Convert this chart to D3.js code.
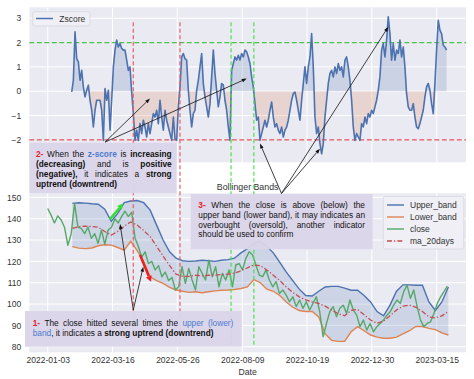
<!DOCTYPE html>
<html>
<head>
<meta charset="utf-8">
<script src="https://cdnjs.cloudflare.com/ajax/libs/d3/7.8.5/d3.min.js"></script>
<style>
  body { margin: 0; background: #fff; }
  svg { font-family: "Liberation Sans", Arial, sans-serif; }
</style>
</head>
<body>
<svg id="chart" width="474" height="379"></svg>
<script>
// x axis: trading-day index, labelled every 50 days
const tickDays = [0, 50, 100, 150, 200, 250, 300];
const tickLabels = ["2022-01-03", "2022-03-16", "2022-05-26", "2022-08-09", "2022-10-19", "2022-12-30", "2023-03-15"];

// close price, one reading every closeStep days from day 0
const closeStep = 2.59;
const closeVals = [144.8, 141.7, 138, 141.3, 139.4, 136, 127.5, 133, 147.2, 136,
  135.5, 133, 136, 130.8, 133, 128.4, 134.7, 128, 134.7, 136,
  140, 138, 141, 143.5, 141, 143, 131, 127, 122, 124.5,
  119, 120, 116, 118, 112.8, 115, 111, 112.5, 106.6,
  108.1, 117.5, 109.7, 116.7, 111.3, 106.6, 117.5, 114.4, 111.3, 120.6,
  112.8, 117.5, 108.1, 114.4, 111.3, 116, 108.1, 118.3, 119, 116,
  121.4, 124.5, 123, 118.3, 113.6, 112.8, 116, 111.3, 108.1, 110.5,
  105, 106.6, 104.2, 101.1, 103.4, 98.8, 101.9, 98, 101.1, 97.2,
  100.3, 103.4, 96.4, 84.7, 90.9, 96.4, 98.8, 94.1, 98, 99.5,
  95.6, 101.9, 97.2, 94.8, 89.4, 92.5, 87.8, 90.9, 87, 89.4,
  90.9, 92.5, 94.8, 96.4, 99.5, 101.9, 100.3, 105.8, 108.9, 102.7,
  106.6, 98.8, 92.5, 89.4, 90.9, 91.7, 95.6, 100.3, 103.4, 105.8, 108.4];

// bands and 20 day average, every 5 days from day 19
const bandStart = 19, bandStep = 5;
const upperVals = [147.2, 147.5, 147.3, 147, 146.8, 144.5, 138.8, 142.5, 147.5, 148.3,
  148.5, 147.5, 144, 137, 130, 124.5, 121.5, 120.3, 120, 120.2,
  120.5, 120.3, 120, 120.5, 120.8, 121.5, 124, 126, 128.5, 129.5,
  127, 124, 119.5, 115, 111, 107, 104, 103.8, 106, 108,
  108.3, 108.3, 107.5, 106.5, 106.5, 104, 101, 96.5, 94.5, 99.5,
  106, 109, 109, 108.8, 108.8, 101, 97, 101, 108];
const lowerVals = [126.9, 126.2, 126, 126.3, 127.3, 127.8, 127.6, 126.5, 125.3, 129.5,
  125, 120, 112.8, 111, 109.7, 107.8, 106.6, 106, 105.5, 105.8,
  105.3, 105.8, 106.2, 106.5, 106.6, 106.8, 107.3, 108, 111.5, 110,
  107, 106, 104, 101, 98.5, 97, 96.5, 96.5, 94, 86,
  83, 82.5, 82.5, 87, 89.4, 87.5, 85.5, 84.5, 84, 84,
  84.5, 86, 87.5, 89.5, 89.5, 88.6, 88, 86.5, 85.5];
const maVals = [135.5, 136.3, 136.5, 136.3, 136, 134, 132.3, 134, 136.5, 138.5,
  137, 134.5, 131.6, 127, 122.5, 118, 114, 113, 113, 113.5,
  113.2, 113.5, 113.5, 113.8, 114, 114.5, 115.5, 117, 118.3, 118,
  116, 113.5, 111, 108, 105.5, 103.4, 102, 101, 100.3, 99,
  97.2, 95.5, 94.5, 97, 97.5, 95, 92.5, 91, 92, 94.5,
  97.2, 99, 99.5, 98.5, 96.5, 94, 93.5, 94.5, 96.5];

// z-score readings
const zStart = 18.5, zStep = 1.285;
const zVals = [-0.03, 0.45, 2.44, 1.34, 1.21, 0.45, 0.86, 0.18, -0.23, 0.04,
  0.25, -0.37, -0.78, -1.47, -0.78, -0.37, -0.37, -0.37, -0.78, -2.02,
  0.11, -0.37, 0.04, -1.6, -0.37, 1.0, 1.69, 2.1, 1.82, 1.96,
  1.76, 1.69, 1.69, 1.28, 0.86, 1.0, -0.03, -0.92, -2.02, -1.6,
  -2.02, -1.33, -1.74, -1.19, -1.47, -1.88, -1.33, -1.74, -1.33, -0.92,
  -1.06, -0.78, -1.33, -0.37, -1.06, -1.6, -0.78, -1.19, -1.47, -1.74,
  -2.02, -1.06, -1.95, -2.02, -0.64, 0.18, 1.41, 1.55, 1.34, 1.28,
  0.04, -0.78, -1.47, -0.92, -0.78, 0.04, 0.45, 1.0, 1.55, 0.32,
  -0.23, -0.64, -1.06, -0.51, 0.59, 1.69, 0.73, 0.04, -0.64, -0.23,
  0.32, 0.25, -0.37, -0.78, -1.47, -2.02, 0.86, 1.14, 1.41, 1.28,
  1.48, 1.28, 1.55, 1.41, 1.69, 1.62, 1.41, 1.14, 0.59, 0.18,
  -0.51, -1.19, -1.06, -2.02, -1.74, -1.47, -1.19, -1.47, -1.19, -0.78,
  -0.44, -1.06, -1.47, -1.33, -1.6, -1.74, -1.47, -1.88, -1.6, -1.47,
  -1.19, -0.78, -0.37, -0.1, -0.03, -0.37, -0.78, -1.19, -0.37, 0.32,
  1.0, 0.32, 1.0, 1.41, 2.37, 1.0, -1.06, -1.74, -1.47, -2.15,
  -2.57, -2.15, -1.06, -0.37, 0.32, 0.73, 0.86, 0.59, 1.0, 0.73,
  1.14, 0.86, 1.0, 0.59, 1.28, 1.41, 1.0, 0.45, -0.37, -1.47,
  -2.02, -1.74, -1.88, -2.02, -1.33, -1.47, -1.06, -1.33, -0.92, -1.06,
  -0.78, -0.92, -0.64, -0.37, 0.04, 0.59, 1.69, 1.96, 1.41, 2.1,
  3.06, 2.37, 1.28, 1.96, 1.28, 1.69, 1.55, 2.1, 1.41, 1.82,
  1.0, -0.1, -0.64, -0.78, -0.78, -0.51, -1.06, -1.47, -1.54, -1.33,
  -1.06, -0.78, -0.23, 0.18, 0.32, 0.04, -0.51, -0.92, 0.32, 1.69,
  2.92, 2.51, 2.37, 1.89, 1.82, 1.69];

const zTicks = [-2, -1, 0, 1, 2, 3];
const priceTicks = [80, 90, 100, 110, 120, 130, 140, 150];
const redDays = [66, 102];
const greenDays = [141.4, 159];

const blue = "#4C72B0", orange = "#DD8452", green = "#55A868", red = "#C44E52";

const svg = d3.select("#chart");
const x = d3.scaleLinear().domain([-14.2, 322.6]).range([29.3, 466]);
const yz = d3.scaleLinear().domain([-2.92, 3.45]).range([162.3, 7.3]);
const yb = d3.scaleLinear().domain([77.4, 151.9]).range([352.3, 193.3]);

const closePts = closeVals.map((v, i) => [i * closeStep, v]);
const bandPts = (vals) => vals.map((v, i) => [bandStart + i * bandStep, v]);
const upperPts = bandPts(upperVals), lowerPts = bandPts(lowerVals), maPts = bandPts(maVals);
const zPts = zVals.map((v, i) => [zStart + i * zStep, v]);

function panel(y, ticks, fmt) {
  const [x0, x1] = x.range();
  const [b, t] = y.range();
  svg.append("rect").attr("x", x0).attr("y", t).attr("width", x1 - x0).attr("height", b - t).attr("fill", "#EAEAF2");
  const grid = svg.append("g").attr("stroke", "#fff").attr("stroke-width", 1);
  tickDays.forEach(d => grid.append("line").attr("x1", x(d)).attr("x2", x(d)).attr("y1", t).attr("y2", b));
  ticks.forEach(v => grid.append("line").attr("x1", x0).attr("x2", x1).attr("y1", y(v)).attr("y2", y(v)));
  const ax = svg.append("g").attr("transform", `translate(${x0},0)`)
    .call(d3.axisLeft(y).tickValues(ticks).tickSize(0).tickPadding(8).tickFormat(fmt));
  ax.select(".domain").remove();
  ax.selectAll("text").attr("font-size", 8.5).attr("fill", "#333").style("font-family", "Liberation Sans, Arial");
}

// ---------- top panel: z-score ----------
panel(yz, zTicks, d3.format("d"));
const defs = svg.append("defs");
defs.append("clipPath").attr("id", "zpos").append("rect")
  .attr("x", 0).attr("y", 0).attr("width", 474).attr("height", yz(0));
defs.append("clipPath").attr("id", "zneg").append("rect")
  .attr("x", 0).attr("y", yz(0)).attr("width", 474).attr("height", 379);

const zArea = d3.area().x(d => x(d[0])).y0(yz(0)).y1(d => yz(d[1]));
svg.append("path").datum(zPts).attr("d", zArea).attr("clip-path", "url(#zpos)")
  .attr("fill", blue).attr("fill-opacity", 0.2);
svg.append("path").datum(zPts).attr("d", zArea).attr("clip-path", "url(#zneg)")
  .attr("fill", orange).attr("fill-opacity", 0.22);

const [ax0, ax1] = x.range();
svg.append("line").attr("x1", ax0).attr("x2", ax1).attr("y1", yz(2)).attr("y2", yz(2))
  .attr("stroke", "#4cc24c").attr("stroke-width", 1.4).attr("stroke-dasharray", "5,2.5");
svg.append("line").attr("x1", ax0).attr("x2", ax1).attr("y1", yz(-2)).attr("y2", yz(-2))
  .attr("stroke", "#e0505c").attr("stroke-width", 1.4).attr("stroke-dasharray", "5,2.5");

svg.append("path").datum(zPts)
  .attr("d", d3.line().x(d => x(d[0])).y(d => yz(d[1])))
  .attr("fill", "none").attr("stroke", blue).attr("stroke-width", 1.6).attr("stroke-linejoin", "round");

// legend (top)
const lgTop = svg.append("g");
lgTop.append("rect").attr("x", 32.7).attr("y", 11.7).attr("width", 57.3).attr("height", 14.3).attr("rx", 2)
  .attr("fill", "#EFEFF5").attr("stroke", "#d4d4dc").attr("stroke-width", 0.7);
lgTop.append("line").attr("x1", 36).attr("x2", 53).attr("y1", 18.5).attr("y2", 18.5).attr("stroke", blue).attr("stroke-width", 1.5);
lgTop.append("text").attr("x", 59.3).attr("y", 21.5).attr("font-size", 8.5).attr("fill", "#333").text("Zscore");

// ---------- bottom panel: Bollinger bands ----------
panel(yb, priceTicks, d3.format("d"));
const xAx = svg.append("g").attr("transform", `translate(0,${yb.range()[0]})`)
  .call(d3.axisBottom(x).tickValues(tickDays).tickSize(0).tickPadding(4.5).tickFormat((d, i) => tickLabels[i]));
xAx.select(".domain").remove();
xAx.selectAll("text").attr("font-size", 8.5).attr("fill", "#333").style("font-family", "Liberation Sans, Arial");
svg.append("text").attr("x", d3.mean(x.range())).attr("y", 375).attr("text-anchor", "middle")
  .attr("font-size", 8.7).attr("fill", "#333").text("Date");
svg.append("text").attr("x", d3.mean(x.range())).attr("y", 190).attr("text-anchor", "middle")
  .attr("font-size", 8.8).attr("fill", "#333").text("Bollinger Bands");

const bandArea = d3.area().x(d => x(d[0])).y0((d, i) => yb(lowerPts[i][1])).y1(d => yb(d[1]));
svg.append("path").datum(upperPts).attr("d", bandArea).attr("fill", blue).attr("fill-opacity", 0.18);

const pLine = d3.line().x(d => x(d[0])).y(d => yb(d[1]));
svg.append("path").datum(upperPts).attr("d", pLine).attr("fill", "none").attr("stroke", blue).attr("stroke-width", 1.4);
svg.append("path").datum(lowerPts).attr("d", pLine).attr("fill", "none").attr("stroke", orange).attr("stroke-width", 1.4);
svg.append("path").datum(closePts).attr("d", pLine).attr("fill", "none").attr("stroke", green).attr("stroke-width", 1.4).attr("stroke-linejoin", "round");
svg.append("path").datum(maPts).attr("d", pLine).attr("fill", "none").attr("stroke", red).attr("stroke-width", 1.3).attr("stroke-dasharray", "5,2,1.3,2");

// legend (bottom)
const lgB = svg.append("g");
lgB.append("rect").attr("x", 383.3).attr("y", 196.5).attr("width", 80.5).attr("height", 52.5).attr("rx", 2)
  .attr("fill", "#EFEFF5").attr("stroke", "#d4d4dc").attr("stroke-width", 0.7);
const lgItems = [["Upper_band", blue, null], ["Lower_band", orange, null], ["close", green, null], ["ma_20days", red, "5,2,1.3,2"]];
lgItems.forEach(([name, col, dash], i) => {
  const yy = 205 + i * 12;
  lgB.append("line").attr("x1", 387).attr("x2", 404).attr("y1", yy).attr("y2", yy)
    .attr("stroke", col).attr("stroke-width", 1.4).attr("stroke-dasharray", dash);
  lgB.append("text").attr("x", 410).attr("y", yy + 3).attr("font-size", 8.5).attr("fill", "#333").text(name);
});

// ---------- vertical markers across both panels ----------
const vTop = yz(2.84), vBot = yb(79.85);
redDays.forEach(d => svg.append("line").attr("x1", x(d)).attr("x2", x(d)).attr("y1", vTop).attr("y2", vBot)
  .attr("stroke", "#e8606a").attr("stroke-width", 1.2).attr("stroke-dasharray", "4,2.5"));
greenDays.forEach(d => svg.append("line").attr("x1", x(d)).attr("x2", x(d)).attr("y1", vTop).attr("y2", vBot)
  .attr("stroke", "#4ee04e").attr("stroke-width", 1.2).attr("stroke-dasharray", "4,2.5"));

// ---------- annotation boxes ----------
const fs = 8.3;
function textBox(b) {
  const g = svg.append("g");
  g.append("rect").attr("x", b.x0).attr("y", b.y0).attr("width", b.x1 - b.x0).attr("height", b.y1 - b.y0)
    .attr("fill", "#DBD4E9").attr("fill-opacity", 0.96);
  b.lines.forEach((line, li) => {
    const y = b.ty + li * b.lh;
    const words = line.map(w => {
      const t = g.append("text").attr("y", y).attr("font-size", fs).attr("fill", "#111");
      (Array.isArray(w) ? w : [w]).forEach(seg => {
        const [st, txt] = seg.includes("|") ? seg.split("|") : ["", seg];
        t.append("tspan").text(txt)
          .attr("font-weight", st.includes("b") || st === "r" ? "bold" : null)
          .attr("fill", st === "r" ? "#e8202a" : st.includes("u") ? "#4a7bd0" : null);
      });
      return t;
    });
    const widths = words.map(t => t.node().getComputedTextLength());
    const justify = li < b.lines.length - 1 && words.length > 1;
    const gap = justify ? (b.tx1 - b.tx0 - d3.sum(widths)) / (words.length - 1) : fs * 0.278;
    let cx = b.tx0;
    words.forEach((t, i) => { t.attr("x", cx); cx += widths[i] + gap; });
  });
}

textBox({ x0: 29.3, x1: 176.7, y0: 142.7, y1: 193.3, tx0: 36, tx1: 171.7, ty: 157.3, lh: 9.8,
  lines: [["r|2-", "When", "the", "ub|z-score", "is", "b|increasing"],
          ["b|(decreasing)", "and", "is", "b|positive"],
          ["b|(negative),", "it", "indicates", "a", "b|strong"],
          ["b|uptrend", "b|(downtrend)"]] });
textBox({ x0: 25, x1: 241.7, y0: 311, y1: 346.7, tx0: 32.7, tx1: 233.3, ty: 326.3, lh: 9.8,
  lines: [["r|1-", "The", "close", "hitted", "several", "times", "the", "u|upper", "u|(lower)"],
          [["u|band", ","], "it", "indicates", "a", "b|strong", "b|uptrend", "b|(downtrend)"]] });
textBox({ x0: 190.7, x1: 372.7, y0: 194, y1: 249.3, tx0: 198.3, tx1: 365, ty: 207.7, lh: 9.9,
  lines: [["r|3-", "When", "the", "close", "is", "above", "(below)", "the"],
          ["upper", "band", "(lower", "band),", "it", "may", "indicates", "an"],
          ["overbought", "(oversold),", "another", "indicator"],
          ["should", "be", "used", "to", "confirm"]] });

// ---------- arrows ----------
function arrow(p, q, col, w, hl, hw) {
  const dx = q[0] - p[0], dy = q[1] - p[1], L = Math.hypot(dx, dy);
  const ux = dx / L, uy = dy / L;
  const bx = q[0] - ux * hl, by = q[1] - uy * hl;
  svg.append("line").attr("x1", p[0]).attr("y1", p[1]).attr("x2", bx).attr("y2", by)
    .attr("stroke", col).attr("stroke-width", w);
  svg.append("polygon").attr("fill", col)
    .attr("points", [[q[0], q[1]], [bx - uy * hw / 2, by + ux * hw / 2], [bx + uy * hw / 2, by - ux * hw / 2]].join(" "));
}
const zp = d => [x(d[0]), yz(d[1])];
const bp = d => [x(d[0]), yb(d[1])];

const zArrowTail = [44.2, -2.09];
const zArrowHeads = [[78.9, -0.3], [153.5, 0.52]];
zArrowHeads.forEach(h => arrow(zp(zArrowTail), zp(h), "#111", 0.8, 5, 3.6));

const bbArrowTail = [180.3, -4.2];
const bbArrowHeads = [[163.7, -2.15], [262.7, 2.65], [210, -2.36]];
bbArrowHeads.forEach(h => arrow(zp(bbArrowTail), zp(h), "#111", 0.8, 5, 3.6));

const closeArrowTail = [66, 97.2];
const closeArrowHeads = [[55.8, 137.5], [73.7, 117.5]];
closeArrowHeads.forEach(h => arrow(bp(closeArrowTail), bp(h), "#111", 0.8, 5, 3.6));

arrow(bp([48, 139.8]), bp([58.3, 147.2]), "#2fe02f", 2.4, 6, 6);
arrow(bp([71.2, 123]), bp([79.7, 110.4]), "#ee1c1c", 2.4, 6, 6);
</script>
</body>
</html>
